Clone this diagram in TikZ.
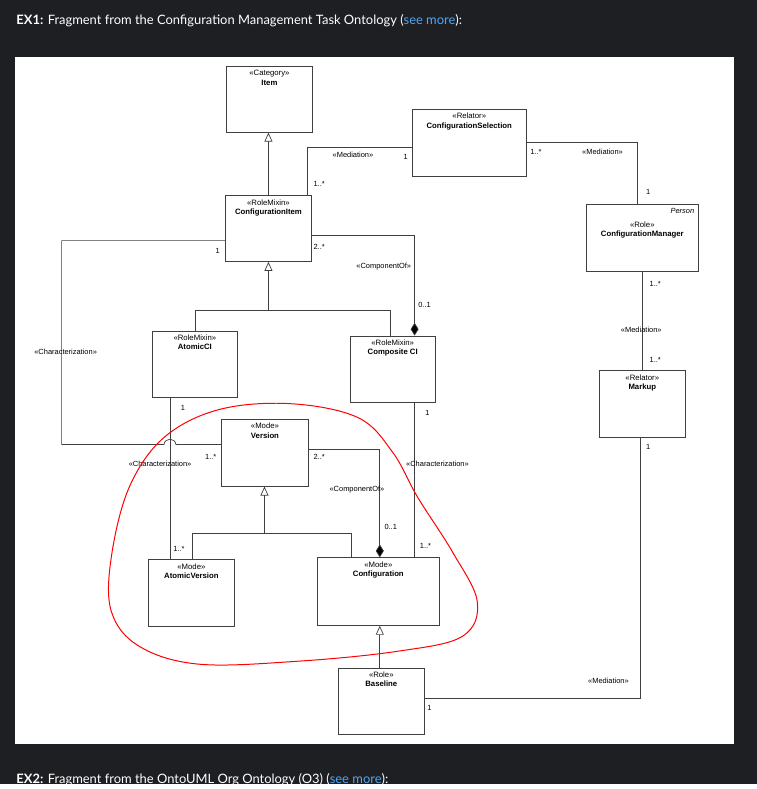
\documentclass[tikz,border=0pt]{standalone}
\usepackage{fontspec}
\setmainfont{Liberation Sans}
\newfontfamily\hdr{Lato}
\usetikzlibrary{arrows.meta}
\definecolor{bg}{HTML}{1E1F22}
\definecolor{lnk}{HTML}{4EA6F5}
\begin{document}
\begin{tikzpicture}[x=1pt,y=-1pt,
  box/.style={draw=black!75,line width=0.8pt,inner sep=0pt,fill=white},
  st/.style={anchor=north,font=\fontsize{7.8}{9.5}\selectfont,align=center,inner sep=0pt},
  lb/.style={font=\fontsize{7.5}{8.5}\selectfont,inner sep=1pt},
  ln/.style={draw=black!75,line width=0.7pt},
  gen/.style={ln,-{Triangle[open,width=8pt,length=9pt]}},
  comp/.style={ln,{Diamond[fill=black,width=8pt,length=13pt]}-}]
\fill[bg] (0,0) rectangle (761,789);
\fill[white] (15,57) rectangle (738,748);
\node[anchor=west,text=white,font=\hdr\fontsize{13}{15}\selectfont] at (13,21) {\textbf{EX1:} Fragment from the Configuration Management Task Ontology (\textcolor{lnk}{see more}):};
\node[anchor=west,text=white,font=\hdr\fontsize{13}{15}\selectfont] at (13,784) {\textbf{EX2:} Fragment from the OntoUML Org Ontology (O3) (\textcolor{lnk}{see more}):};
\newcommand\cls[7]{%
 \node[box,minimum width=#4-#2,minimum height=#5-#3] (#1) at ({(#2+#4)/2},{(#3+#5)/2}) {};
 \node[st] at ([yshift=-4pt]#1.north) {«#6»\\\textbf{#7}};}
\cls{item}{228}{67}{314}{133}{Category}{Item}
\cls{ci}{227}{197}{313}{263}{RoleMixin}{ConfigurationItem}
\cls{aci}{153}{333}{239}{400}{RoleMixin}{AtomicCI}
\cls{cci}{352}{338}{438}{405}{RoleMixin}{Composite CI}
\cls{cs}{415}{110}{529}{177}{Relator}{ConfigurationSelection}
\node[box,minimum width=112,minimum height=67] (cm) at (646,239.5) {};
\node[st] at ([yshift=-17pt]cm.north) {«Role»\\\textbf{ConfigurationManager}};
\node[anchor=north east,font=\fontsize{7.5}{8.5}\selectfont\itshape,inner sep=0pt] at ([xshift=-4pt,yshift=-4pt]cm.north east) {Person};
\cls{mk}{603}{373}{689}{440}{Relator}{Markup}
\cls{ver}{223}{422}{310}{489}{Mode}{Version}
\cls{av}{149}{563}{236}{630}{Mode}{AtomicVersion}
\cls{cf}{319}{561}{442}{629}{Mode}{Configuration}
\cls{bl}{340}{672}{427}{739}{Role}{Baseline}
% generalizations
\draw[gen] (ci.north -| 270,0) -- (item.south -| 270,0);
\draw[ln] (aci.north -| 196,0) |- (270,312) -| (cci.north -| 393,0);
\draw[gen] (270,312) -- (ci.south -| 270,0);
\draw[ln] (av.north -| 193,0) |- (266,536) -| (cf.north -| 353,0);
\draw[gen] (266,536) -- (ver.south -| 266,0);
\draw[gen] (bl.north -| 382,0) -- (cf.south -| 382,0);
% mediations
\draw[ln] (ci.north -| 309,0) |- (cs.west |- 0,148);
\node[lb] at (355,156) {«Mediation»};
\node[lb] at (321,185) {1..*};
\node[lb] at (408,158) {1};
\draw[ln] (cs.east |- 0,143) -| (cm.north -| 641,0);
\node[lb] at (539,153) {1..*};
\node[lb] at (606,153) {«Mediation»};
\node[lb] at (652,193) {1};
\draw[ln] (cm.south -| 646,0) -- (mk.north -| 646,0);
\node[lb] at (659,286) {1..*};
\node[lb] at (645,332) {«Mediation»};
\node[lb] at (659,362) {1..*};
\draw[ln] (bl.east |- 0,702) -| (mk.south -| 644,0);
\node[lb] at (612,685) {«Mediation»};
\node[lb] at (432,712) {1};
\node[lb] at (652,450) {1};
% component of
\draw[comp] (cci.north -| 417,0) |- (ci.east |- 0,237);
\node[lb] at (321,248) {2..*};
\node[lb] at (386,268) {«ComponentOf»};
\node[lb] at (427,307) {0..1};
\draw[comp] (cf.north -| 382,0) |- (ver.east |- 0,452);
\node[lb] at (321,460) {2..*};
\node[lb] at (359,492) {«ComponentOf»};
\node[lb] at (393,530) {0..1};
% characterizations
\draw[ln] (ci.west |- 0,242) -- (62,242) -- (62,447) -- (165,447) .. controls (166,440) and (176,440) .. (177,447) -- (ver.west |- 0,447);
\node[lb] at (66,354) {«Characterization»};
\node[lb] at (219,252) {1};
\node[lb] at (212,460) {1..*};
\draw[ln] (aci.south -| 171,0) -- (av.north -| 171,0);
\node[lb] at (184,410) {1};
\node[lb] at (180,552) {1..*};
\node[lb] at (161,467) {«Characterization»};
\draw[ln] (cci.south -| 417,0) -- (cf.north -| 417,0);
\node[lb] at (430,415) {1};
\node[lb] at (440,467) {«Characterization»};
\node[lb] at (428,549) {1..*};
% red hand-drawn loop
\draw[red,line width=1pt] plot[smooth cycle,tension=0.6] coordinates {(292,406) (360,420) (395,455) (420,500) (455,555) (480,605) (465,640) (400,655) (300,665) (200,668) (140,650) (112,615) (112,560) (130,490) (165,440) (220,412)};
\end{tikzpicture}
\end{document}
